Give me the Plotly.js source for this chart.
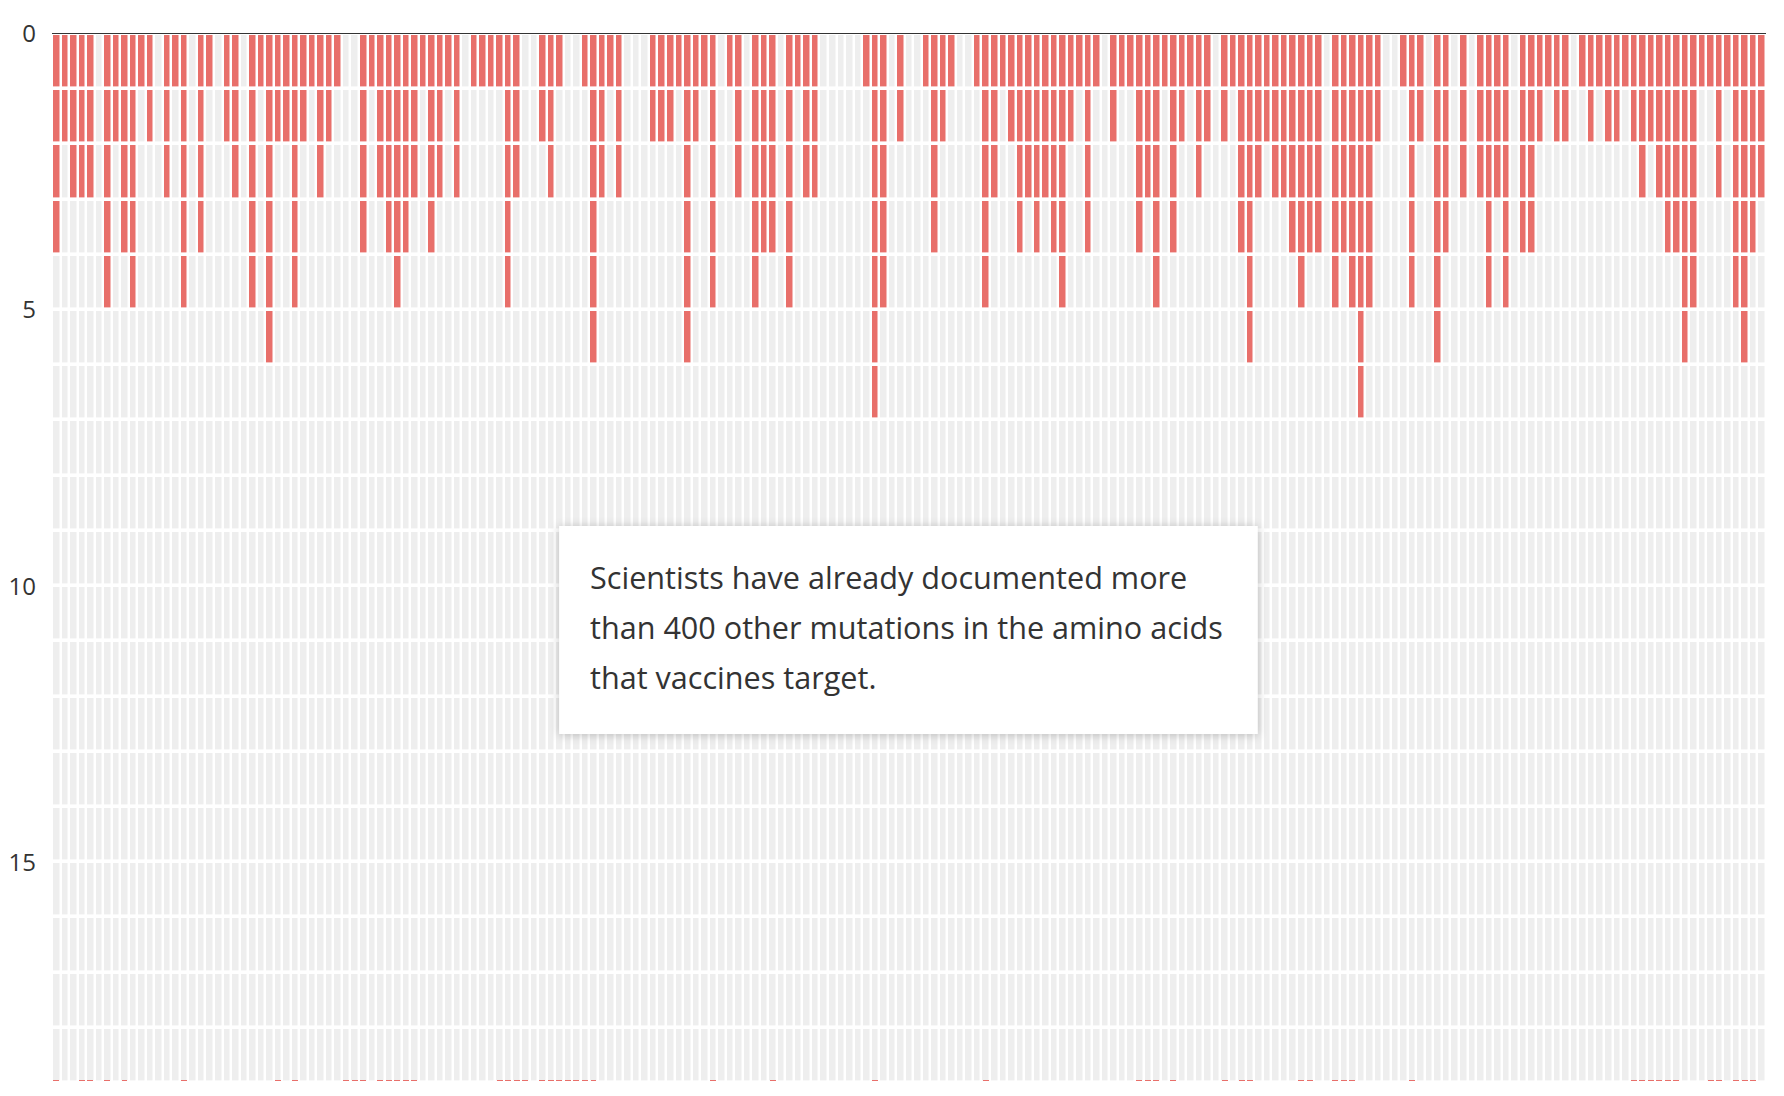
<!DOCTYPE html>
<html>
<head>
<meta charset="utf-8">
<script src="https://cdn.plot.ly/plotly-3.0.1.min.js"></script>
<style>
  html, body { margin: 0; padding: 0; background: #ffffff; }
  #chart { width: 1784px; height: 1096px; }
  /* soft shadow under the note card */
  .shapelayer path { filter: drop-shadow(0px 1px 5px rgba(0, 0, 0, 0.22)); }
</style>
</head>
<body>
<div id="chart"></div>
<script>
// Number of documented mutations at each amino acid position (left to right)
const mutationCounts = [
  4, 2, 3, 3, 3, 0, 5, 2, 4, 5, 1, 2, 0, 3, 1, 5, 0, 4, 1, 0,
  2, 3, 0, 5, 1, 6, 2, 2, 5, 2, 1, 3, 2, 1, 0, 0, 4, 1, 3, 4,
  5, 4, 3, 1, 4, 3, 1, 3, 0, 1, 1, 1, 1, 5, 3, 0, 0, 2, 3, 1,
  0, 0, 1, 6, 3, 1, 3, 0, 0, 0, 2, 2, 2, 1, 6, 2, 1, 5, 0, 1,
  3, 0, 5, 4, 4, 0, 5, 1, 3, 3, 0, 0, 0, 0, 0, 1, 7, 5, 0, 2,
  0, 0, 1, 4, 2, 1, 0, 0, 1, 5, 3, 1, 2, 4, 3, 4, 3, 4, 5, 2,
  1, 4, 1, 0, 2, 1, 1, 4, 3, 5, 1, 4, 2, 1, 3, 2, 0, 2, 1, 4,
  6, 3, 2, 3, 3, 4, 5, 4, 4, 0, 5, 4, 5, 7, 5, 2, 0, 0, 1, 5,
  2, 0, 6, 4, 0, 3, 0, 3, 5, 3, 5, 0, 4, 4, 2, 1, 2, 2, 0, 1,
  2, 1, 2, 2, 1, 2, 3, 2, 3, 4, 4, 6, 5, 1, 1, 3, 1, 5, 6, 4,
  3
];

// Positions carrying a marker along the lower edge of the grid
const edgeMarkedPositions = [
  0, 3, 4, 6, 8, 15, 26, 28, 34, 35, 36, 38, 39, 40, 41, 42,
  52, 53, 54, 55, 57, 58, 59, 60, 61, 62, 63, 77, 84, 96, 109,
  127, 128, 129, 131, 137, 139, 140, 146, 147, 150, 151, 152, 159,
  185, 186, 187, 188, 189, 190, 194, 195, 197, 198, 199
];

// Grid depth (rows) and y-axis tick labels
const rowCount = 19;
const yTickValues = [0, 5, 10, 15];
const yTickLabels = ['0', '5', '10', '15'];

// Note text, one entry per line
const noteLines = [
  'Scientists have already documented more',
  'than 400 other mutations in the amino acids',
  'that vaccines target.'
];

const RED = '#e86f6a';
const GREY = '#eeeeee';
const FONT = '"Open Sans", "Noto Sans", sans-serif';

// Build the cell matrix: 1 = mutation cell, 0 = empty slot
const positions = mutationCounts.map((_, i) => i);
const cellMatrix = [];
for (let r = 0; r < rowCount; r++) {
  cellMatrix.push(mutationCounts.map(c => (r < c ? 1 : 0)));
}

const gridTrace = {
  type: 'heatmap',
  x: positions,
  y0: 0.5,
  dy: 1,
  z: cellMatrix,
  zmin: 0,
  zmax: 1,
  colorscale: [[0, GREY], [0.5, GREY], [0.5, RED], [1, RED]],
  showscale: false,
  xgap: 2.5,
  ygap: 3.6,
  hoverinfo: 'skip'
};

const edgeTrace = {
  type: 'bar',
  x: edgeMarkedPositions,
  y: edgeMarkedPositions.map(() => 0.024),
  base: edgeMarkedPositions.map(() => rowCount - 0.056),
  width: 0.7,
  marker: { color: RED, line: { width: 0 } },
  hoverinfo: 'skip'
};

const noteAnnotations = noteLines.map((line, k) => ({
  xref: 'x', yref: 'y',
  x: 62.4, y: 9.84 + k * 0.9,
  xanchor: 'left', yanchor: 'middle',
  text: line,
  showarrow: false,
  align: 'left',
  font: { family: FONT, size: 30.6, color: '#333333' }
}));

const layout = {
  width: 1784,
  height: 1096,
  margin: { l: 52, r: 18, t: 34, b: 13, pad: 0 },
  paper_bgcolor: '#ffffff',
  plot_bgcolor: '#ffffff',
  showlegend: false,
  bargap: 0,
  xaxis: {
    range: [-0.5, mutationCounts.length - 0.5],
    side: 'top',
    showline: true,
    linecolor: '#333333',
    linewidth: 1.5,
    showgrid: false,
    zeroline: false,
    showticklabels: false,
    ticks: '',
    fixedrange: true
  },
  yaxis: {
    range: [rowCount, 0],
    tickvals: yTickValues,
    ticktext: yTickLabels,
    ticks: '',
    ticklabelstandoff: 15,
    showgrid: false,
    zeroline: false,
    showline: false,
    tickfont: { family: FONT, size: 24, color: '#333333' },
    fixedrange: true
  },
  shapes: [{
    type: 'rect',
    xref: 'x', yref: 'y',
    x0: 58.97, x1: 140.9,
    y0: 8.91, y1: 12.68,
    fillcolor: '#ffffff',
    line: { width: 0 },
    layer: 'above'
  }],
  annotations: noteAnnotations
};

Plotly.newPlot('chart', [gridTrace, edgeTrace], layout, { displayModeBar: false, staticPlot: true });
</script>
</body>
</html>
